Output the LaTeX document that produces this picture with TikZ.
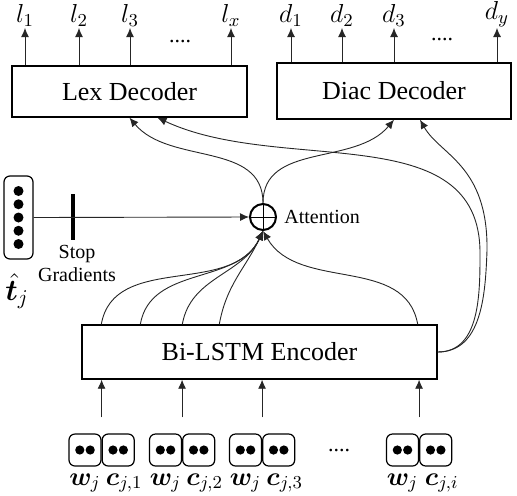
\RequirePackage{fix-cm}
\documentclass[tikz,border=0pt]{standalone}
\usepackage{amsmath,amssymb,bm}
\usepackage{fontspec}
\setmainfont{Liberation Serif}
\usetikzlibrary{arrows.meta,positioning}

\begin{document}
\begin{tikzpicture}[x=0.5pt,y=0.5pt]
 \tikzstyle{block}=[rectangle, draw, line width=0.7pt, inner sep=0pt, font=\fontsize{13}{15}\selectfont]
 \tikzstyle{flow}=[-{Latex[length=4.5pt,width=4pt]}, line width=0.45pt, black!85]
 \tikzstyle{outlbl}=[inner sep=0.5pt, anchor=south, font=\fontsize{13}{15}\selectfont]
 \tikzstyle{wclbl}=[inner sep=0pt, text height=6pt, text depth=3pt, font=\fontsize{13}{15}\selectfont]
 \tikzstyle{vec}=[rectangle, rounded corners=3pt, draw, line width=0.6pt, minimum width=16pt, minimum height=16pt, inner sep=0pt,
   path picture={\fill (path picture bounding box.center) ++(-2.6pt,0) circle (2.3pt) ++(5.2pt,0) circle (2.3pt);}]
 \tikzstyle{small}=[font=\fontsize{10}{11.5}\selectfont, align=center, inner sep=0pt]
 \tikzstyle{dotsep}=[font=\fontsize{11}{13}\selectfont, inner sep=0pt]
 %
 \useasboundingbox (0,0) rectangle (517,495);
 %
 \node[block, minimum width=117.5pt, minimum height=25.5pt] (lex) at (129.5,403.5) {Lex Decoder};
 \node[block, minimum width=117pt, minimum height=28pt] (diac) at (394,404) {Diac Decoder};
 \node[block, minimum width=177.5pt, minimum height=27pt] (enc) at (259.5,143) {Bi-LSTM Encoder};
 %
 \node[circle, draw, line width=1pt, minimum size=13pt, inner sep=0pt] (att) at (263,278) {};
 \draw[line width=0.5pt] (att.north) -- (att.south) (att.west) -- (att.east);
 \node[small, anchor=west] (attlbl) at (284,278) {Attention};
 %
 \node[draw, rounded corners=3pt, line width=0.6pt, minimum width=14.5pt, minimum height=41.5pt, inner sep=0pt] (tvec) at (18.5,277.5) {};
 \foreach \k in {-2,...,2} \fill (tvec.center) ++(0,\k*13.25) circle (2.5pt);
 \node[font=\fontsize{15}{17}\selectfont, inner sep=0pt] (that) at (17,204) {$\bm{\hat{t}}_j$};
 \node[fill=black, minimum width=2pt, minimum height=23pt, inner sep=0pt] (stop) at (73,278) {};
 \node[small] (stoplbl) at (77,231.5) {Stop\\Gradients};
 \draw[flow] (tvec.east) -- (att.west);
 %
 \foreach \name/\x/\txt in {l1/25/l_1, l2/79/l_2, l3/130/l_3, lx/231/l_x} {
   \node[outlbl] (\name) at (\x,467) {$\txt$};
   \draw[flow] (lex.north -| \name) -- (\name.south);
 }
 \foreach \name/\x/\txt in {d1/291/d_1, d2/342/d_2, d3/394/d_3, dy/497/d_y} {
   \node[outlbl] (\name) at (\x,467) {$\txt$};
   \draw[flow] (diac.north -| \name) -- (\name.south);
 }
 \node[dotsep] (ldots) at (180,453) {....};
 \node[dotsep] (ddots) at (442,455) {....};
 %
 \draw[flow] (att.north) to[out=90,in=-50] (lex.south);
 \draw[flow] (att.north) to[out=90,in=-130] (diac.south);
 %
 \coordinate (bendL) at (480,242);
 \coordinate (bendD) at (487,245);
 \draw[flow] (enc.east) to[out=0,in=-90] (bendL) to[out=90,in=-25] ([xshift=14pt]lex.south);
 \draw[flow] (enc.east) to[out=0,in=-92] (bendD) .. controls (488,330) and (440,340) .. ([xshift=13pt]diac.south);
 %
 \foreach \dx in {10,29.5,50.5,69}
   \draw[flow] ([xshift=\dx pt]enc.north west) to[out=80,in=-115] (att.south);
 \draw[flow] ([xshift=-10pt]enc.north east) to[out=100,in=-60] (att.south);
 %
 \foreach \i/\x/\sub in {1/85/1, 2/165.5/2, 3/245.5/3, 4/402.5/i} {
   \node[vec] (w\i) at (\x,45) {};
   \node[vec, right=0pt of w\i] (c\i) {};
   \node[wclbl, below=3pt of w\i] (wl\i) {$\bm{w}_j$};
   \node[wclbl, below=3pt of c\i, xshift=3pt] (cl\i) {$\bm{c}_{j,\sub}$};
   \draw[flow] ([yshift=8pt]w\i.north east) -- (enc.south -| w\i.north east);
 }
 \node[dotsep] (wdots) at (339,45) {....};
\end{tikzpicture}
\end{document}
